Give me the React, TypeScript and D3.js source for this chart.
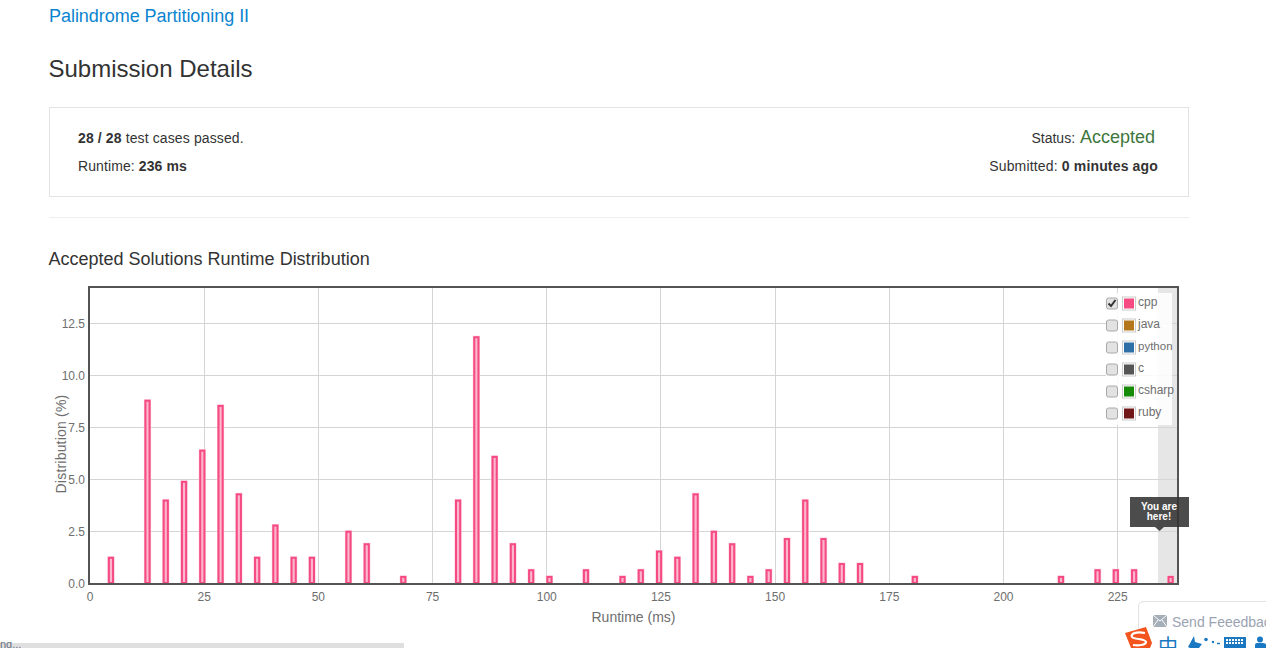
import React from "react";
import * as d3 from "d3";

const runtimes = [4,12,16,20,24,28,32,36,40,44,48,56,60,68,80,84,88,92,96,100,108,116,120,124,128,132,136,140,144,148,152,156,160,164,168,180,212,220,224,228,236];
const distribution = [1.25,8.8,4.0,4.9,6.4,8.55,4.3,1.25,2.8,1.25,1.25,2.5,1.9,0.33,4.0,11.85,6.1,1.9,0.65,0.33,0.65,0.33,0.65,1.55,1.25,4.3,2.5,1.9,0.33,0.65,2.15,4.0,2.15,0.95,0.95,0.33,0.33,0.65,0.65,0.65,0.33];
const xTicks = [0,25,50,75,100,125,150,175,200,225];
const yTicks = [0,2.5,5,7.5,10,12.5];
const legendNames = ["cpp","java","python","c","csharp","ruby"];
const legendColors = ["#f54a82","#b3761b","#2f6fa8","#555555","#178a08","#701616"];

const FONT = "'Liberation Sans', Arial, Helvetica, sans-serif";
const L = 90, R = 1178, T = 288, B = 583;
const x = d3.scaleLinear().domain([0, 238.2]).range([L, R]);
const y = d3.scaleLinear().domain([0, 14.18]).range([B, T]);
const youAreHere = 236;
const BLUE = "#1a78c2";

export default function App() {
  return (
    <svg width={1266} height={648} viewBox="0 0 1266 648"
      style={{ position: "absolute", left: 0, top: 0, background: "#fff", fontFamily: FONT }}>
      <text x={49} y={21.5} fontSize={18} fill="#0a84d0" letterSpacing={-0.04}>Palindrome Partitioning II</text>
      <text x={48.5} y={77} fontSize={24} fill="#333">Submission Details</text>

      <rect x={49.5} y={107.5} width={1139} height={89} fill="#fff" stroke="#e3e3e3" />
      <text x={78} y={143} fontSize={14} fill="#333" letterSpacing={0.12}><tspan fontWeight="bold">28 / 28</tspan> test cases passed.</text>
      <text x={78} y={171} fontSize={14} fill="#333" letterSpacing={0.1}>Runtime: <tspan fontWeight="bold">236 ms</tspan></text>
      <text x={1155} y={143} fontSize={14} fill="#333" textAnchor="end">Status: <tspan fontSize={18} fill="#3c763d" dx={1}>Accepted</tspan></text>
      <text x={1158} y={171} fontSize={14} fill="#333" textAnchor="end" letterSpacing={0.16}>Submitted: <tspan fontWeight="bold">0 minutes ago</tspan></text>
      <line x1={49} x2={1189} y1={217.5} y2={217.5} stroke="#eee" />

      <text x={48.5} y={264.5} fontSize={18} fill="#333">Accepted Solutions Runtime Distribution</text>

      {/* highlight band */}
      <rect x={x(youAreHere) - 10} y={T} width={R - x(youAreHere) + 10} height={B - T} fill="#e6e6e6" />

      {/* grid */}
      {xTicks.slice(1).map(t => (
        <line key={t} x1={Math.floor(x(t)) + 0.5} x2={Math.floor(x(t)) + 0.5} y1={T} y2={B} stroke="#d5d5d5" />
      ))}
      {yTicks.slice(1).map(t => (
        <line key={t} x1={L} x2={R} y1={Math.round(y(t)) + 0.5} y2={Math.round(y(t)) + 0.5} stroke="#d5d5d5" />
      ))}

      {/* bars */}
      {runtimes.map((r, i) => {
        const top = y(distribution[i]) + 0.8;
        return (
          <g key={r}>
            <rect x={x(r) + 0.6} y={top} width={x(r + 1) - x(r) - 0.4} height={B - top}
              fill="none" stroke="#fbc9da" strokeWidth={3} />
            <rect x={x(r) + 0.6} y={top} width={x(r + 1) - x(r) - 0.4} height={B - top}
              fill="#fcb6ce" stroke="#f54a82" strokeWidth={2} />
          </g>
        );
      })}

      {/* frame */}
      <rect x={L - 1} y={T - 1} width={R - L + 1} height={B - T + 2} fill="none" stroke="#545454" strokeWidth={2} />

      {/* tick labels */}
      {xTicks.map(t => (
        <text key={t} x={x(t)} y={601} fontSize={12} fill="#6e6e6e" textAnchor="middle">{t}</text>
      ))}
      {yTicks.map(t => (
        <text key={t} x={85} y={y(t) + 5} fontSize={12} fill="#6e6e6e" textAnchor="end">{t.toFixed(1)}</text>
      ))}
      <text x={633.5} y={622} fontSize={14} fill="#6e6e6e" textAnchor="middle">Runtime (ms)</text>
      <text transform="translate(66,444) rotate(-90)" fontSize={14} fill="#6e6e6e" textAnchor="middle" letterSpacing={0.2}>Distribution (%)</text>

      {/* legend */}
      <rect x={1106} y={293} width={66} height={132} fill="#fff" fillOpacity={0.85} />
      {legendNames.map((n, i) => {
        const cy = 303.5 + i * 22;
        return (
          <g key={n}>
            <rect x={1106.5} y={cy - 5.5} width={11} height={11} rx={2} fill="#e2e2e2" stroke="#a8a8a8" />
            {i === 0 && <path d={`M1108.5 ${cy} l2.5 2.5 l4.5 -6`} fill="none" stroke="#333" strokeWidth={2} />}
            <rect x={1122.5} y={cy - 6.5} width={13} height={13} fill="#fff" stroke="#ccc" />
            <rect x={1124} y={cy - 5} width={10} height={10} fill={legendColors[i]} />
            <text x={1138} y={cy + 2} fontSize={i === 2 ? 11.5 : 12} fill="#6e6e6e">{n}</text>
          </g>
        );
      })}

      {/* tooltip */}
      <rect x={1130} y={497} width={59} height={30} fill="#333" fillOpacity={0.88} />
      <path d="M1155 527 L1159.5 531 L1164 527 Z" fill="#333" fillOpacity={0.88} />
      <text x={1159} y={510} fontSize={10} fontWeight="bold" fill="#fff" textAnchor="middle">You are</text>
      <text x={1159} y={520} fontSize={10} fontWeight="bold" fill="#fff" textAnchor="middle">here!</text>

      {/* status bar */}
      <rect x={0} y={643} width={404} height={5} fill="#dfdfdf" />
      <text x={0} y={648} fontSize={11} fill="#6b7280">ng...</text>

      {/* feedback box */}
      <path d="M1266 601.5 H1144 Q1138.5 601.5 1138.5 607 V648" fill="#fff" stroke="#e2e2e2" />
      <rect x={1153} y={615} width={14} height={12} fill="#a6aeb8" />
      <path d="M1153 615 l7 6 l7 -6 M1153 627 l5 -7 M1167 627 l-5 -7" fill="none" stroke="#fff" />
      <text x={1172} y={627} fontSize={14} fill="#9aa3b3">Send Feeedbac</text>

      {/* IME toolbar */}
      <path d="M1125 633 L1146 627 L1152 643 L1150 648 H1131 Z" fill="#f4541d" />
      <path d="M1145 633 C1136 631 1130 634 1132 637 C1134 640 1145 638 1146 642 C1146 645 1138 646 1133 645" fill="none" stroke="#fff" strokeWidth={2.2} />
      <text x={1158} y={654} fontSize={20} fill={BLUE} fontFamily="'Noto Sans CJK SC'">中</text>
      <path d="M1188 647 L1194 636 L1195 642 L1202 644 L1199 648 H1190 Z" fill={BLUE} />
      <circle cx={1206} cy={639.5} r={1.8} fill={BLUE} />
      <circle cx={1213} cy={642} r={1.2} fill={BLUE} />
      <path d="M1217 643.5 h3" stroke={BLUE} strokeWidth={1.5} />
      <rect x={1224} y={637} width={22} height={11} fill={BLUE} />
      {[0,1,2,3,4,5].map(k => <rect key={k} x={1226 + k * 3} y={639} width={2} height={2} fill="#fff" />)}
      {[0,1,2,3,4,5].map(k => <rect key={k} x={1226 + k * 3} y={642} width={2} height={2} fill="#fff" />)}
      <circle cx={1260} cy={639.5} r={3} fill={BLUE} />
      <path d="M1255 648 V645 Q1255 643 1257 643 H1263 Q1266 643 1266 645 V648 Z" fill={BLUE} />
    </svg>
  );
}
